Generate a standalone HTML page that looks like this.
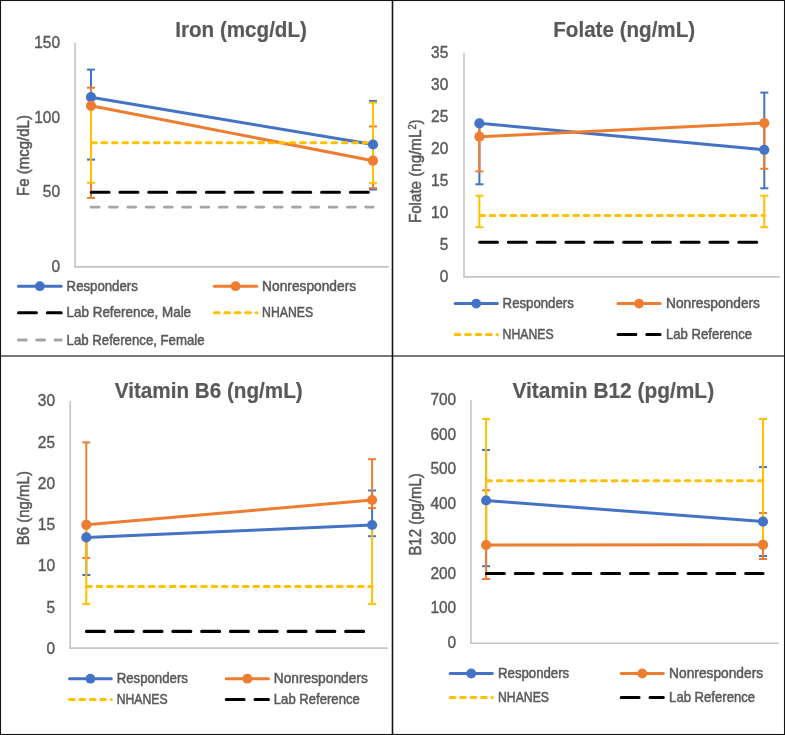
<!DOCTYPE html>
<html><head><meta charset="utf-8"><style>
html,body{margin:0;padding:0;background:#fff;}
body{width:785px;height:735px;overflow:hidden;position:relative;}
svg{position:absolute;left:0;top:0;font-family:"Liberation Sans", sans-serif;filter:blur(0.4px);}
.t{fill:#595959;stroke:#595959;stroke-width:0.5px;}
.n{fill:#595959;stroke:#595959;stroke-width:0.4px;}
.h{fill:#595959;stroke:#595959;stroke-width:0.2px;}
</style></head><body>
<svg width="785" height="735" viewBox="0 0 785 735">
<rect x="0" y="0" width="785" height="735" fill="#fff"/>
<line x1="75.10" y1="42.70" x2="75.10" y2="266.90" stroke="#c4c4c4" stroke-width="1.6" stroke-linecap="butt"/>
<line x1="74.30" y1="266.90" x2="388.90" y2="266.90" stroke="#c4c4c4" stroke-width="1.6" stroke-linecap="butt"/>
<text class="n" x="60.00" y="272.05" font-size="16" text-anchor="end" textLength="8.60" lengthAdjust="spacingAndGlyphs">0</text>
<text class="n" x="60.00" y="197.35" font-size="16" text-anchor="end" textLength="17.20" lengthAdjust="spacingAndGlyphs">50</text>
<text class="n" x="60.00" y="122.65" font-size="16" text-anchor="end" textLength="25.80" lengthAdjust="spacingAndGlyphs">100</text>
<text class="n" x="60.00" y="47.95" font-size="16" text-anchor="end" textLength="25.80" lengthAdjust="spacingAndGlyphs">150</text>
<line x1="91.00" y1="69.60" x2="91.00" y2="159.60" stroke="#4472C4" stroke-width="2.0" stroke-linecap="butt"/>
<line x1="87.00" y1="69.60" x2="95.00" y2="69.60" stroke="#4472C4" stroke-width="2.0" stroke-linecap="butt"/>
<line x1="87.00" y1="159.60" x2="95.00" y2="159.60" stroke="#4472C4" stroke-width="2.0" stroke-linecap="butt"/>
<line x1="373.00" y1="100.90" x2="373.00" y2="189.50" stroke="#4472C4" stroke-width="2.0" stroke-linecap="butt"/>
<line x1="369.00" y1="100.90" x2="377.00" y2="100.90" stroke="#4472C4" stroke-width="2.0" stroke-linecap="butt"/>
<line x1="369.00" y1="189.50" x2="377.00" y2="189.50" stroke="#4472C4" stroke-width="2.0" stroke-linecap="butt"/>
<line x1="91.00" y1="87.70" x2="91.00" y2="197.90" stroke="#ED7D31" stroke-width="2.0" stroke-linecap="butt"/>
<line x1="87.00" y1="87.70" x2="95.00" y2="87.70" stroke="#ED7D31" stroke-width="2.0" stroke-linecap="butt"/>
<line x1="87.00" y1="197.90" x2="95.00" y2="197.90" stroke="#ED7D31" stroke-width="2.0" stroke-linecap="butt"/>
<line x1="373.00" y1="126.40" x2="373.00" y2="188.10" stroke="#ED7D31" stroke-width="2.0" stroke-linecap="butt"/>
<line x1="369.00" y1="126.40" x2="377.00" y2="126.40" stroke="#ED7D31" stroke-width="2.0" stroke-linecap="butt"/>
<line x1="369.00" y1="188.10" x2="377.00" y2="188.10" stroke="#ED7D31" stroke-width="2.0" stroke-linecap="butt"/>
<line x1="91.00" y1="106.00" x2="91.00" y2="182.70" stroke="#FFC000" stroke-width="2.0" stroke-linecap="butt"/>
<line x1="87.00" y1="182.70" x2="95.00" y2="182.70" stroke="#FFC000" stroke-width="2.0" stroke-linecap="butt"/>
<line x1="373.00" y1="102.60" x2="373.00" y2="182.90" stroke="#FFC000" stroke-width="2.0" stroke-linecap="butt"/>
<line x1="369.00" y1="102.60" x2="377.00" y2="102.60" stroke="#FFC000" stroke-width="2.0" stroke-linecap="butt"/>
<line x1="369.00" y1="182.90" x2="377.00" y2="182.90" stroke="#FFC000" stroke-width="2.0" stroke-linecap="butt"/>
<line x1="91.00" y1="97.20" x2="373.00" y2="144.50" stroke="#4472C4" stroke-width="3.0" stroke-linecap="round"/>
<line x1="91.00" y1="105.80" x2="373.00" y2="160.70" stroke="#ED7D31" stroke-width="3.0" stroke-linecap="round"/>
<line x1="91.20" y1="192.30" x2="373.00" y2="192.30" stroke="#000000" stroke-width="3.1" stroke-linecap="round" stroke-dasharray="17.9 10.9"/>
<line x1="91.20" y1="207.10" x2="373.00" y2="207.10" stroke="#A5A5A5" stroke-width="2.8" stroke-linecap="round" stroke-dasharray="7.9 10.4"/>
<line x1="91.60" y1="142.80" x2="373.00" y2="142.80" stroke="#FFC000" stroke-width="3.0" stroke-linecap="round" stroke-dasharray="4.6 5.85"/>
<circle cx="91.00" cy="97.20" r="5.1" fill="#4472C4"/>
<circle cx="373.00" cy="144.50" r="5.1" fill="#4472C4"/>
<circle cx="91.00" cy="105.80" r="5.1" fill="#ED7D31"/>
<circle cx="373.00" cy="160.70" r="5.1" fill="#ED7D31"/>
<text class="h" x="241.10" y="36.80" font-size="22.5" font-weight="bold" text-anchor="middle" textLength="131.6" lengthAdjust="spacingAndGlyphs">Iron (mcg/dL)</text>
<text class="t" x="29.20" y="155.50" font-size="16.5" text-anchor="middle" textLength="80.8" lengthAdjust="spacingAndGlyphs" transform="rotate(-90 29.20 155.50)">Fe (mcg/dL)</text>
<line x1="18.50" y1="286.20" x2="61.20" y2="286.20" stroke="#4472C4" stroke-width="3.0" stroke-linecap="round"/>
<circle cx="39.85" cy="286.20" r="4.9" fill="#4472C4"/>
<text class="t" x="66.60" y="290.70" font-size="14.2" textLength="71.2" lengthAdjust="spacingAndGlyphs">Responders</text>
<line x1="214.40" y1="286.20" x2="256.80" y2="286.20" stroke="#ED7D31" stroke-width="3.0" stroke-linecap="round"/>
<circle cx="235.60" cy="286.20" r="4.9" fill="#ED7D31"/>
<text class="t" x="262.10" y="290.70" font-size="14.2" textLength="94.0" lengthAdjust="spacingAndGlyphs">Nonresponders</text>
<line x1="18.50" y1="312.80" x2="61.20" y2="312.80" stroke="#000000" stroke-width="3" stroke-linecap="round" stroke-dasharray="17.9 10.9"/>
<text class="t" x="66.60" y="317.30" font-size="14.2" textLength="124.5" lengthAdjust="spacingAndGlyphs">Lab Reference, Male</text>
<line x1="214.40" y1="312.80" x2="256.80" y2="312.80" stroke="#FFC000" stroke-width="3" stroke-linecap="round" stroke-dasharray="4.6 5.85"/>
<text class="t" x="262.10" y="317.30" font-size="14.2" textLength="51.0" lengthAdjust="spacingAndGlyphs">NHANES</text>
<line x1="18.40" y1="340.00" x2="61.30" y2="340.00" stroke="#A5A5A5" stroke-width="2.8" stroke-linecap="round" stroke-dasharray="7.9 10.4"/>
<text class="t" x="66.60" y="344.50" font-size="14.2" textLength="138.0" lengthAdjust="spacingAndGlyphs">Lab Reference, Female</text>
<line x1="464.00" y1="52.90" x2="464.00" y2="276.90" stroke="#c4c4c4" stroke-width="1.6" stroke-linecap="butt"/>
<line x1="463.20" y1="276.90" x2="779.80" y2="276.90" stroke="#c4c4c4" stroke-width="1.6" stroke-linecap="butt"/>
<text class="n" x="448.30" y="281.85" font-size="16" text-anchor="end" textLength="8.60" lengthAdjust="spacingAndGlyphs">0</text>
<text class="n" x="448.30" y="249.86" font-size="16" text-anchor="end" textLength="8.60" lengthAdjust="spacingAndGlyphs">5</text>
<text class="n" x="448.30" y="217.88" font-size="16" text-anchor="end" textLength="17.20" lengthAdjust="spacingAndGlyphs">10</text>
<text class="n" x="448.30" y="185.89" font-size="16" text-anchor="end" textLength="17.20" lengthAdjust="spacingAndGlyphs">15</text>
<text class="n" x="448.30" y="153.91" font-size="16" text-anchor="end" textLength="17.20" lengthAdjust="spacingAndGlyphs">20</text>
<text class="n" x="448.30" y="121.92" font-size="16" text-anchor="end" textLength="17.20" lengthAdjust="spacingAndGlyphs">25</text>
<text class="n" x="448.30" y="89.94" font-size="16" text-anchor="end" textLength="17.20" lengthAdjust="spacingAndGlyphs">30</text>
<text class="n" x="448.30" y="57.95" font-size="16" text-anchor="end" textLength="17.20" lengthAdjust="spacingAndGlyphs">35</text>
<line x1="479.40" y1="123.30" x2="479.40" y2="184.30" stroke="#4472C4" stroke-width="2.0" stroke-linecap="butt"/>
<line x1="475.40" y1="184.30" x2="483.40" y2="184.30" stroke="#4472C4" stroke-width="2.0" stroke-linecap="butt"/>
<line x1="764.30" y1="92.60" x2="764.30" y2="188.30" stroke="#4472C4" stroke-width="2.0" stroke-linecap="butt"/>
<line x1="760.30" y1="92.60" x2="768.30" y2="92.60" stroke="#4472C4" stroke-width="2.0" stroke-linecap="butt"/>
<line x1="760.30" y1="188.30" x2="768.30" y2="188.30" stroke="#4472C4" stroke-width="2.0" stroke-linecap="butt"/>
<line x1="479.40" y1="125.00" x2="479.40" y2="171.40" stroke="#ED7D31" stroke-width="2.0" stroke-linecap="butt"/>
<line x1="475.40" y1="171.40" x2="483.40" y2="171.40" stroke="#ED7D31" stroke-width="2.0" stroke-linecap="butt"/>
<line x1="764.30" y1="123.10" x2="764.30" y2="168.80" stroke="#ED7D31" stroke-width="2.0" stroke-linecap="butt"/>
<line x1="760.30" y1="168.80" x2="768.30" y2="168.80" stroke="#ED7D31" stroke-width="2.0" stroke-linecap="butt"/>
<line x1="479.40" y1="195.70" x2="479.40" y2="227.20" stroke="#FFC000" stroke-width="2.0" stroke-linecap="butt"/>
<line x1="475.40" y1="195.70" x2="483.40" y2="195.70" stroke="#FFC000" stroke-width="2.0" stroke-linecap="butt"/>
<line x1="475.40" y1="227.20" x2="483.40" y2="227.20" stroke="#FFC000" stroke-width="2.0" stroke-linecap="butt"/>
<line x1="764.30" y1="195.70" x2="764.30" y2="227.20" stroke="#FFC000" stroke-width="2.0" stroke-linecap="butt"/>
<line x1="760.30" y1="195.70" x2="768.30" y2="195.70" stroke="#FFC000" stroke-width="2.0" stroke-linecap="butt"/>
<line x1="760.30" y1="227.20" x2="768.30" y2="227.20" stroke="#FFC000" stroke-width="2.0" stroke-linecap="butt"/>
<line x1="479.40" y1="123.30" x2="764.30" y2="149.80" stroke="#4472C4" stroke-width="3.0" stroke-linecap="round"/>
<line x1="479.40" y1="136.70" x2="764.30" y2="123.10" stroke="#ED7D31" stroke-width="3.0" stroke-linecap="round"/>
<line x1="479.60" y1="242.20" x2="764.30" y2="242.20" stroke="#000000" stroke-width="3.1" stroke-linecap="round" stroke-dasharray="17.9 10.9"/>
<line x1="479.80" y1="215.40" x2="764.30" y2="215.40" stroke="#FFC000" stroke-width="3.0" stroke-linecap="round" stroke-dasharray="4.6 5.85"/>
<circle cx="479.40" cy="123.30" r="5.1" fill="#4472C4"/>
<circle cx="764.30" cy="149.80" r="5.1" fill="#4472C4"/>
<circle cx="479.40" cy="136.70" r="5.1" fill="#ED7D31"/>
<circle cx="764.30" cy="123.10" r="5.1" fill="#ED7D31"/>
<text class="h" x="624.20" y="36.50" font-size="22.5" font-weight="bold" text-anchor="middle" textLength="141.8" lengthAdjust="spacingAndGlyphs">Folate (ng/mL)</text>
<text class="t" x="421.00" y="171.25" font-size="16.5" text-anchor="middle" textLength="103.7" lengthAdjust="spacingAndGlyphs" transform="rotate(-90 421.00 171.25)">Folate (ng/mL<tspan dy="-5" font-size="10">2</tspan><tspan dy="5">)</tspan></text>
<line x1="455.20" y1="303.60" x2="497.30" y2="303.60" stroke="#4472C4" stroke-width="3.0" stroke-linecap="round"/>
<circle cx="476.25" cy="303.60" r="4.9" fill="#4472C4"/>
<text class="t" x="502.60" y="308.10" font-size="14.2" textLength="71.2" lengthAdjust="spacingAndGlyphs">Responders</text>
<line x1="618.00" y1="303.60" x2="660.10" y2="303.60" stroke="#ED7D31" stroke-width="3.0" stroke-linecap="round"/>
<circle cx="639.05" cy="303.60" r="4.9" fill="#ED7D31"/>
<text class="t" x="666.00" y="308.10" font-size="14.2" textLength="94.0" lengthAdjust="spacingAndGlyphs">Nonresponders</text>
<line x1="455.20" y1="334.50" x2="497.30" y2="334.50" stroke="#FFC000" stroke-width="3" stroke-linecap="round" stroke-dasharray="4.6 5.85"/>
<text class="t" x="502.60" y="339.00" font-size="14.2" textLength="51.0" lengthAdjust="spacingAndGlyphs">NHANES</text>
<line x1="618.00" y1="334.50" x2="660.10" y2="334.50" stroke="#000000" stroke-width="3" stroke-linecap="round" stroke-dasharray="17.9 10.9"/>
<text class="t" x="666.00" y="339.00" font-size="14.2" textLength="86.0" lengthAdjust="spacingAndGlyphs">Lab Reference</text>
<line x1="70.20" y1="401.00" x2="70.20" y2="648.10" stroke="#c4c4c4" stroke-width="1.6" stroke-linecap="butt"/>
<line x1="69.40" y1="648.10" x2="387.80" y2="648.10" stroke="#c4c4c4" stroke-width="1.6" stroke-linecap="butt"/>
<text class="n" x="55.00" y="653.75" font-size="16" text-anchor="end" textLength="8.60" lengthAdjust="spacingAndGlyphs">0</text>
<text class="n" x="55.00" y="612.52" font-size="16" text-anchor="end" textLength="8.60" lengthAdjust="spacingAndGlyphs">5</text>
<text class="n" x="55.00" y="571.28" font-size="16" text-anchor="end" textLength="17.20" lengthAdjust="spacingAndGlyphs">10</text>
<text class="n" x="55.00" y="530.05" font-size="16" text-anchor="end" textLength="17.20" lengthAdjust="spacingAndGlyphs">15</text>
<text class="n" x="55.00" y="488.82" font-size="16" text-anchor="end" textLength="17.20" lengthAdjust="spacingAndGlyphs">20</text>
<text class="n" x="55.00" y="447.58" font-size="16" text-anchor="end" textLength="17.20" lengthAdjust="spacingAndGlyphs">25</text>
<text class="n" x="55.00" y="406.35" font-size="16" text-anchor="end" textLength="17.20" lengthAdjust="spacingAndGlyphs">30</text>
<line x1="86.30" y1="537.40" x2="86.30" y2="575.00" stroke="#4472C4" stroke-width="2.0" stroke-linecap="butt"/>
<line x1="82.30" y1="575.00" x2="90.30" y2="575.00" stroke="#4472C4" stroke-width="2.0" stroke-linecap="butt"/>
<line x1="372.10" y1="490.50" x2="372.10" y2="536.20" stroke="#4472C4" stroke-width="2.0" stroke-linecap="butt"/>
<line x1="368.10" y1="490.50" x2="376.10" y2="490.50" stroke="#4472C4" stroke-width="2.0" stroke-linecap="butt"/>
<line x1="368.10" y1="536.20" x2="376.10" y2="536.20" stroke="#4472C4" stroke-width="2.0" stroke-linecap="butt"/>
<line x1="86.30" y1="442.40" x2="86.30" y2="557.90" stroke="#ED7D31" stroke-width="2.0" stroke-linecap="butt"/>
<line x1="82.30" y1="442.40" x2="90.30" y2="442.40" stroke="#ED7D31" stroke-width="2.0" stroke-linecap="butt"/>
<line x1="82.30" y1="557.90" x2="90.30" y2="557.90" stroke="#ED7D31" stroke-width="2.0" stroke-linecap="butt"/>
<line x1="372.10" y1="459.20" x2="372.10" y2="508.10" stroke="#ED7D31" stroke-width="2.0" stroke-linecap="butt"/>
<line x1="368.10" y1="459.20" x2="376.10" y2="459.20" stroke="#ED7D31" stroke-width="2.0" stroke-linecap="butt"/>
<line x1="368.10" y1="508.10" x2="376.10" y2="508.10" stroke="#ED7D31" stroke-width="2.0" stroke-linecap="butt"/>
<line x1="86.30" y1="526.00" x2="86.30" y2="604.10" stroke="#FFC000" stroke-width="2.0" stroke-linecap="butt"/>
<line x1="82.30" y1="604.10" x2="90.30" y2="604.10" stroke="#FFC000" stroke-width="2.0" stroke-linecap="butt"/>
<line x1="372.10" y1="526.00" x2="372.10" y2="604.10" stroke="#FFC000" stroke-width="2.0" stroke-linecap="butt"/>
<line x1="368.10" y1="604.10" x2="376.10" y2="604.10" stroke="#FFC000" stroke-width="2.0" stroke-linecap="butt"/>
<line x1="86.30" y1="537.40" x2="372.10" y2="525.00" stroke="#4472C4" stroke-width="3.0" stroke-linecap="round"/>
<line x1="86.30" y1="524.80" x2="372.10" y2="500.00" stroke="#ED7D31" stroke-width="3.0" stroke-linecap="round"/>
<line x1="86.50" y1="631.40" x2="372.10" y2="631.40" stroke="#000000" stroke-width="3.1" stroke-linecap="round" stroke-dasharray="17.9 10.9"/>
<line x1="86.70" y1="586.40" x2="372.10" y2="586.40" stroke="#FFC000" stroke-width="3.0" stroke-linecap="round" stroke-dasharray="4.6 5.85"/>
<circle cx="86.30" cy="537.40" r="5.1" fill="#4472C4"/>
<circle cx="372.10" cy="525.00" r="5.1" fill="#4472C4"/>
<circle cx="86.30" cy="524.80" r="5.1" fill="#ED7D31"/>
<circle cx="372.10" cy="500.00" r="5.1" fill="#ED7D31"/>
<text class="h" x="208.75" y="397.50" font-size="22.5" font-weight="bold" text-anchor="middle" textLength="187.9" lengthAdjust="spacingAndGlyphs">Vitamin B6 (ng/mL)</text>
<text class="t" x="29.30" y="508.15" font-size="16.5" text-anchor="middle" textLength="74.1" lengthAdjust="spacingAndGlyphs" transform="rotate(-90 29.30 508.15)">B6 (ng/mL)</text>
<line x1="69.50" y1="678.70" x2="111.30" y2="678.70" stroke="#4472C4" stroke-width="3.0" stroke-linecap="round"/>
<circle cx="90.40" cy="678.70" r="4.9" fill="#4472C4"/>
<text class="t" x="116.70" y="683.20" font-size="14.2" textLength="71.2" lengthAdjust="spacingAndGlyphs">Responders</text>
<line x1="226.20" y1="678.70" x2="268.50" y2="678.70" stroke="#ED7D31" stroke-width="3.0" stroke-linecap="round"/>
<circle cx="247.35" cy="678.70" r="4.9" fill="#ED7D31"/>
<text class="t" x="273.80" y="683.20" font-size="14.2" textLength="94.0" lengthAdjust="spacingAndGlyphs">Nonresponders</text>
<line x1="69.50" y1="699.50" x2="111.30" y2="699.50" stroke="#FFC000" stroke-width="3" stroke-linecap="round" stroke-dasharray="4.6 5.85"/>
<text class="t" x="116.70" y="704.00" font-size="14.2" textLength="51.0" lengthAdjust="spacingAndGlyphs">NHANES</text>
<line x1="226.20" y1="699.50" x2="268.50" y2="699.50" stroke="#000000" stroke-width="3" stroke-linecap="round" stroke-dasharray="17.9 10.9"/>
<text class="t" x="273.80" y="704.00" font-size="14.2" textLength="86.0" lengthAdjust="spacingAndGlyphs">Lab Reference</text>
<line x1="470.90" y1="400.00" x2="470.90" y2="643.20" stroke="#c4c4c4" stroke-width="1.6" stroke-linecap="butt"/>
<line x1="470.10" y1="643.20" x2="778.90" y2="643.20" stroke="#c4c4c4" stroke-width="1.6" stroke-linecap="butt"/>
<text class="n" x="456.20" y="648.15" font-size="16" text-anchor="end" textLength="8.60" lengthAdjust="spacingAndGlyphs">0</text>
<text class="n" x="456.20" y="613.39" font-size="16" text-anchor="end" textLength="25.80" lengthAdjust="spacingAndGlyphs">100</text>
<text class="n" x="456.20" y="578.64" font-size="16" text-anchor="end" textLength="25.80" lengthAdjust="spacingAndGlyphs">200</text>
<text class="n" x="456.20" y="543.88" font-size="16" text-anchor="end" textLength="25.80" lengthAdjust="spacingAndGlyphs">300</text>
<text class="n" x="456.20" y="509.12" font-size="16" text-anchor="end" textLength="25.80" lengthAdjust="spacingAndGlyphs">400</text>
<text class="n" x="456.20" y="474.36" font-size="16" text-anchor="end" textLength="25.80" lengthAdjust="spacingAndGlyphs">500</text>
<text class="n" x="456.20" y="439.61" font-size="16" text-anchor="end" textLength="25.80" lengthAdjust="spacingAndGlyphs">600</text>
<text class="n" x="456.20" y="404.85" font-size="16" text-anchor="end" textLength="25.80" lengthAdjust="spacingAndGlyphs">700</text>
<line x1="486.10" y1="450.00" x2="486.10" y2="566.20" stroke="#4472C4" stroke-width="2.0" stroke-linecap="butt"/>
<line x1="482.10" y1="450.00" x2="490.10" y2="450.00" stroke="#4472C4" stroke-width="2.0" stroke-linecap="butt"/>
<line x1="482.10" y1="566.20" x2="490.10" y2="566.20" stroke="#4472C4" stroke-width="2.0" stroke-linecap="butt"/>
<line x1="763.00" y1="467.10" x2="763.00" y2="556.00" stroke="#4472C4" stroke-width="2.0" stroke-linecap="butt"/>
<line x1="759.00" y1="467.10" x2="767.00" y2="467.10" stroke="#4472C4" stroke-width="2.0" stroke-linecap="butt"/>
<line x1="759.00" y1="556.00" x2="767.00" y2="556.00" stroke="#4472C4" stroke-width="2.0" stroke-linecap="butt"/>
<line x1="486.10" y1="490.30" x2="486.10" y2="579.00" stroke="#ED7D31" stroke-width="2.0" stroke-linecap="butt"/>
<line x1="482.10" y1="490.30" x2="490.10" y2="490.30" stroke="#ED7D31" stroke-width="2.0" stroke-linecap="butt"/>
<line x1="482.10" y1="579.00" x2="490.10" y2="579.00" stroke="#ED7D31" stroke-width="2.0" stroke-linecap="butt"/>
<line x1="763.00" y1="513.00" x2="763.00" y2="559.00" stroke="#ED7D31" stroke-width="2.0" stroke-linecap="butt"/>
<line x1="759.00" y1="513.00" x2="767.00" y2="513.00" stroke="#ED7D31" stroke-width="2.0" stroke-linecap="butt"/>
<line x1="759.00" y1="559.00" x2="767.00" y2="559.00" stroke="#ED7D31" stroke-width="2.0" stroke-linecap="butt"/>
<line x1="486.10" y1="419.00" x2="486.10" y2="543.00" stroke="#FFC000" stroke-width="2.0" stroke-linecap="butt"/>
<line x1="482.10" y1="419.00" x2="490.10" y2="419.00" stroke="#FFC000" stroke-width="2.0" stroke-linecap="butt"/>
<line x1="763.00" y1="419.00" x2="763.00" y2="543.00" stroke="#FFC000" stroke-width="2.0" stroke-linecap="butt"/>
<line x1="759.00" y1="419.00" x2="767.00" y2="419.00" stroke="#FFC000" stroke-width="2.0" stroke-linecap="butt"/>
<line x1="486.10" y1="500.50" x2="763.00" y2="521.60" stroke="#4472C4" stroke-width="3.0" stroke-linecap="round"/>
<line x1="486.10" y1="545.00" x2="763.00" y2="544.80" stroke="#ED7D31" stroke-width="3.0" stroke-linecap="round"/>
<line x1="486.50" y1="573.50" x2="763.00" y2="573.50" stroke="#000000" stroke-width="3.1" stroke-linecap="round" stroke-dasharray="17.9 10.9"/>
<line x1="486.80" y1="480.70" x2="763.00" y2="480.70" stroke="#FFC000" stroke-width="3.0" stroke-linecap="round" stroke-dasharray="4.6 5.85"/>
<circle cx="486.10" cy="500.50" r="5.1" fill="#4472C4"/>
<circle cx="763.00" cy="521.60" r="5.1" fill="#4472C4"/>
<circle cx="486.10" cy="545.00" r="5.1" fill="#ED7D31"/>
<circle cx="763.00" cy="544.80" r="5.1" fill="#ED7D31"/>
<text class="h" x="613.30" y="398.00" font-size="22.5" font-weight="bold" text-anchor="middle" textLength="201.6" lengthAdjust="spacingAndGlyphs">Vitamin B12 (pg/mL)</text>
<text class="t" x="420.60" y="514.45" font-size="16.5" text-anchor="middle" textLength="82.3" lengthAdjust="spacingAndGlyphs" transform="rotate(-90 420.60 514.45)">B12 (pg/mL)</text>
<line x1="450.20" y1="673.50" x2="492.30" y2="673.50" stroke="#4472C4" stroke-width="3.0" stroke-linecap="round"/>
<circle cx="471.25" cy="673.50" r="4.9" fill="#4472C4"/>
<text class="t" x="498.00" y="678.00" font-size="14.2" textLength="71.2" lengthAdjust="spacingAndGlyphs">Responders</text>
<line x1="621.20" y1="673.50" x2="663.30" y2="673.50" stroke="#ED7D31" stroke-width="3.0" stroke-linecap="round"/>
<circle cx="642.25" cy="673.50" r="4.9" fill="#ED7D31"/>
<text class="t" x="669.10" y="678.00" font-size="14.2" textLength="94.0" lengthAdjust="spacingAndGlyphs">Nonresponders</text>
<line x1="450.20" y1="697.50" x2="492.30" y2="697.50" stroke="#FFC000" stroke-width="3" stroke-linecap="round" stroke-dasharray="4.6 5.85"/>
<text class="t" x="498.00" y="702.00" font-size="14.2" textLength="51.0" lengthAdjust="spacingAndGlyphs">NHANES</text>
<line x1="621.20" y1="697.50" x2="663.30" y2="697.50" stroke="#000000" stroke-width="3" stroke-linecap="round" stroke-dasharray="17.9 10.9"/>
<text class="t" x="669.10" y="702.00" font-size="14.2" textLength="86.0" lengthAdjust="spacingAndGlyphs">Lab Reference</text>
<line x1="0" y1="355.9" x2="785" y2="355.9" stroke="#787878" stroke-width="2"/>
<line x1="392.5" y1="0" x2="392.5" y2="735" stroke="#151515" stroke-width="1.6"/>
<rect x="0.5" y="0.5" width="784" height="734" fill="none" stroke="#151515" stroke-width="1.1"/>
</svg>
</body></html>
